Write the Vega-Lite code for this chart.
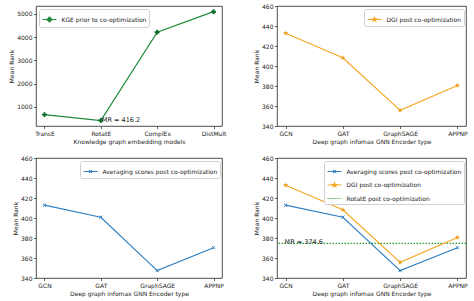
{
  "$schema": "https://vega.github.io/schema/vega-lite/v6.json",
  "background": "white",
  "padding": {"left": 8, "top": 2, "right": 2, "bottom": 2},
  "spacing": 9,
  "datasets": {
    "kge": [
      {"model": "TransE", "rank": 670, "series": "KGE prior to co-optimization"},
      {"model": "RotatE", "rank": 416.2, "series": "KGE prior to co-optimization"},
      {"model": "ComplEx", "rank": 4210, "series": "KGE prior to co-optimization"},
      {"model": "DistMult", "rank": 5090, "series": "KGE prior to co-optimization"}
    ],
    "dgi": [
      {"enc": "GCN", "rank": 432.8, "series": "DGI post co-optimization"},
      {"enc": "GAT", "rank": 408.2, "series": "DGI post co-optimization"},
      {"enc": "GraphSAGE", "rank": 355.6, "series": "DGI post co-optimization"},
      {"enc": "APPNP", "rank": 380.5, "series": "DGI post co-optimization"}
    ],
    "avg": [
      {"enc": "GCN", "rank": 412.8, "series": "Averaging scores post co-optimization"},
      {"enc": "GAT", "rank": 400.8, "series": "Averaging scores post co-optimization"},
      {"enc": "GraphSAGE", "rank": 347.4, "series": "Averaging scores post co-optimization"},
      {"enc": "APPNP", "rank": 370.3, "series": "Averaging scores post co-optimization"}
    ],
    "both": [
      {"enc": "GCN", "rank": 412.8, "series": "Averaging scores post co-optimization"},
      {"enc": "GAT", "rank": 400.8, "series": "Averaging scores post co-optimization"},
      {"enc": "GraphSAGE", "rank": 347.4, "series": "Averaging scores post co-optimization"},
      {"enc": "APPNP", "rank": 370.3, "series": "Averaging scores post co-optimization"},
      {"enc": "GCN", "rank": 432.8, "series": "DGI post co-optimization"},
      {"enc": "GAT", "rank": 408.2, "series": "DGI post co-optimization"},
      {"enc": "GraphSAGE", "rank": 355.6, "series": "DGI post co-optimization"},
      {"enc": "APPNP", "rank": 380.5, "series": "DGI post co-optimization"}
    ],
    "rot": [
      {"rank": 374.6, "series": "RotatE post co-optimization", "enc": "GCN", "label": "MR = 374.6"}
    ],
    "kgelabel": [
      {"model": "RotatE", "rank": 416.2, "label": "MR = 416.2"}
    ]
  },
  "config": {
    "font": "DejaVu Sans",
    "view": {"stroke": "#222", "strokeWidth": 0.8},
    "axis": {
      "grid": false,
      "domain": false,
      "labelFontSize": 6,
      "labelColor": "#222",
      "titleFontSize": 6,
      "titleFontWeight": "normal",
      "titleColor": "#222",
      "tickColor": "#222",
      "tickSize": 2.5,
      "tickWidth": 0.7,
      "labelPadding": 1.5,
      "titlePadding": 2,
      "labelOverlap": false,
      "labelFlush": false
    },
    "legend": {
      "labelFontSize": 6,
      "labelColor": "#222",
      "strokeColor": "#d0d0d0",
      "fillColor": "white",
      "cornerRadius": 2,
      "padding": 2.5,
      "offset": 2.5,
      "rowPadding": 1.5,
      "labelOffset": 4,
      "symbolSize": 196,
      "title": null
    }
  },
  "resolve": {"scale": {"color": "independent"}, "legend": {"color": "independent"}},
  "vconcat": [
    {
      "bounds": "flush",
      "spacing": 55,
      "resolve": {"scale": {"color": "independent"}, "legend": {"color": "independent"}},
      "hconcat": [
        {
          "width": 186,
          "height": 120,
          "layer": [
            {
              "data": {"name": "kge"},
              "mark": {"type": "line", "strokeWidth": 1.2},
              "encoding": {
                "x": {"field": "model", "type": "nominal", "sort": null,
                      "scale": {"type": "point", "padding": 0.15},
                      "axis": {"title": "Knowledge graph embedding models", "labelAngle": 0}},
                "y": {"field": "rank", "type": "quantitative",
                      "scale": {"domain": [182, 5334], "nice": false, "zero": false},
                      "axis": {"title": "Mean Rank", "format": "d", "tickCount": 5, "labelOverlap": false, "labelSeparation": 0}},
                "color": {"field": "series", "type": "nominal",
                          "scale": {"domain": ["KGE prior to co-optimization"], "range": ["#1d8a3a"]},
                          "legend": {
                            "orient": "top-left",
                            "encode": {"symbols": {"update": {
                              "shape": {"value": "M-1,0H1M-0.1,-0.3H0.1V-0.1H0.3V0.1H0.1V0.3H-0.1V0.1H-0.3V-0.1H-0.1Z"},
                              "stroke": {"value": "#1d8a3a"},
                              "fill": {"value": "#0f6b2c"},
                              "strokeWidth": {"value": 1.1},
                              "opacity": {"value": 1}
                            }}}
                          }}
              }
            },
            {
              "data": {"name": "kge"},
              "mark": {"type": "point", "shape": "cross", "filled": true, "size": 24, "color": "#0f6b2c", "opacity": 1},
              "encoding": {
                "x": {"field": "model", "type": "nominal", "sort": null},
                "y": {"field": "rank", "type": "quantitative"}
              }
            },
            {
              "data": {"name": "kgelabel"},
              "mark": {"type": "text", "align": "left", "baseline": "alphabetic", "fontSize": 6.5, "dx": 1, "dy": 1, "color": "#222"},
              "encoding": {
                "x": {"field": "model", "type": "nominal", "sort": null},
                "y": {"field": "rank", "type": "quantitative"},
                "text": {"field": "label"}
              }
            }
          ]
        },
        {
          "width": 189,
          "height": 120,
          "layer": [
            {
              "data": {"name": "dgi"},
              "mark": {"type": "line", "strokeWidth": 1.2},
              "encoding": {
                "x": {"field": "enc", "type": "nominal", "sort": null,
                      "scale": {"type": "point", "padding": 0.15},
                      "axis": {"title": "Deep graph infomax GNN Encoder type", "labelAngle": 0}},
                "y": {"field": "rank", "type": "quantitative",
                      "scale": {"domain": [340, 460], "nice": false, "zero": false},
                      "axis": {"title": "Mean Rank", "format": "d", "tickCount": 6, "labelOverlap": false, "labelSeparation": 0}},
                "color": {"field": "series", "type": "nominal",
                          "scale": {"domain": ["DGI post co-optimization"], "range": ["#f5a623"]},
                          "legend": {
                            "orient": "top-right",
                            "encode": {"symbols": {"update": {
                              "shape": {"value": "M-1,0H1M0,-0.3L0.07,-0.1L0.29,-0.09L0.11,0.04L0.18,0.24L0,0.12L-0.18,0.24L-0.11,0.04L-0.29,-0.09L-0.07,-0.1Z"},
                              "stroke": {"value": "#f5a623"},
                              "fill": {"value": "#f0a020"},
                              "strokeWidth": {"value": 1.1},
                              "opacity": {"value": 1}
                            }}}
                          }}
              }
            },
            {
              "data": {"name": "dgi"},
              "mark": {"type": "point", "shape": "M0,-1L0.24,-0.33L0.95,-0.31L0.38,0.12L0.59,0.81L0,0.4L-0.59,0.81L-0.38,0.12L-0.95,-0.31L-0.24,-0.33Z", "filled": true, "size": 30, "color": "#e89a1a", "opacity": 1},
              "encoding": {
                "x": {"field": "enc", "type": "nominal", "sort": null},
                "y": {"field": "rank", "type": "quantitative"}
              }
            }
          ]
        }
      ]
    },
    {
      "bounds": "flush",
      "spacing": 55,
      "resolve": {"scale": {"color": "independent"}, "legend": {"color": "independent"}},
      "hconcat": [
        {
          "width": 186,
          "height": 120,
          "layer": [
            {
              "data": {"name": "avg"},
              "mark": {"type": "line", "strokeWidth": 1.2},
              "encoding": {
                "x": {"field": "enc", "type": "nominal", "sort": null,
                      "scale": {"type": "point", "padding": 0.15},
                      "axis": {"title": "Deep graph infomax GNN Encoder type", "labelAngle": 0}},
                "y": {"field": "rank", "type": "quantitative",
                      "scale": {"domain": [340, 460], "nice": false, "zero": false},
                      "axis": {"title": "Mean Rank", "format": "d", "tickCount": 6, "labelOverlap": false, "labelSeparation": 0}},
                "color": {"field": "series", "type": "nominal",
                          "scale": {"domain": ["Averaging scores post co-optimization"], "range": ["#2f7fc1"]},
                          "legend": {
                            "orient": "top-right",
                            "encode": {"symbols": {"update": {
                              "shape": {"value": "M-1,0H1M-0.2,-0.2L0.2,0.2M-0.2,0.2L0.2,-0.2"},
                              "stroke": {"value": "#2f7fc1"},
                              "fill": {"value": "transparent"},
                              "strokeWidth": {"value": 1.1},
                              "opacity": {"value": 1}
                            }}}
                          }}
              }
            },
            {
              "data": {"name": "avg"},
              "mark": {"type": "point", "shape": "M-1,-1L1,1M-1,1L1,-1", "filled": false, "size": 10, "strokeWidth": 1, "color": "#2f7fc1", "opacity": 1},
              "encoding": {
                "x": {"field": "enc", "type": "nominal", "sort": null},
                "y": {"field": "rank", "type": "quantitative"}
              }
            }
          ]
        },
        {
          "width": 189,
          "height": 120,
          "layer": [
            {
              "data": {"name": "rot"},
              "mark": {"type": "rule", "strokeDash": [1.5, 1.5], "strokeWidth": 1.1},
              "encoding": {
                "y": {"field": "rank", "type": "quantitative",
                      "scale": {"domain": [340, 460], "nice": false, "zero": false},
                      "axis": {"title": "Mean Rank", "format": "d", "tickCount": 6, "labelOverlap": false, "labelSeparation": 0}},
                "color": {"field": "series", "type": "nominal",
                          "scale": {"domain": ["Averaging scores post co-optimization", "DGI post co-optimization", "RotatE post co-optimization"],
                                    "range": ["#2f7fc1", "#f5a623", "#2ca02c"]},
                          "legend": {
                            "orient": "top-right",
                            "encode": {"symbols": {"update": {
                              "shape": {"signal": "datum.value == 'Averaging scores post co-optimization' ? 'M-1,0H1M-0.2,-0.2L0.2,0.2M-0.2,0.2L0.2,-0.2' : datum.value == 'DGI post co-optimization' ? 'M-1,0H1M0,-0.3L0.07,-0.1L0.29,-0.09L0.11,0.04L0.18,0.24L0,0.12L-0.18,0.24L-0.11,0.04L-0.29,-0.09L-0.07,-0.1Z' : 'M-1,0H-0.86M-0.72,0H-0.58M-0.44,0H-0.3M-0.16,0H-0.02M0.12,0H0.26M0.4,0H0.54M0.68,0H0.82M0.96,0H1'"},
                              "stroke": {"signal": "datum.value == 'Averaging scores post co-optimization' ? '#2f7fc1' : datum.value == 'DGI post co-optimization' ? '#f5a623' : '#2ca02c'"},
                              "fill": {"signal": "datum.value == 'DGI post co-optimization' ? '#f0a020' : 'transparent'"},
                              "strokeWidth": {"value": 1.1},
                              "opacity": {"value": 1}
                            }}}
                          }}
              }
            },
            {
              "data": {"name": "both"},
              "mark": {"type": "line", "strokeWidth": 1.2},
              "encoding": {
                "x": {"field": "enc", "type": "nominal", "sort": null,
                      "scale": {"type": "point", "padding": 0.15, "domain": ["GCN", "GAT", "GraphSAGE", "APPNP"]},
                      "axis": {"title": "Deep graph infomax GNN Encoder type", "labelAngle": 0}},
                "y": {"field": "rank", "type": "quantitative"},
                "color": {"field": "series", "type": "nominal"}
              }
            },
            {
              "data": {"name": "both"},
              "transform": [{"filter": "datum.series == 'DGI post co-optimization'"}],
              "mark": {"type": "point", "shape": "M0,-1L0.24,-0.33L0.95,-0.31L0.38,0.12L0.59,0.81L0,0.4L-0.59,0.81L-0.38,0.12L-0.95,-0.31L-0.24,-0.33Z", "filled": true, "size": 30, "color": "#e89a1a", "opacity": 1},
              "encoding": {
                "x": {"field": "enc", "type": "nominal"},
                "y": {"field": "rank", "type": "quantitative"}
              }
            },
            {
              "data": {"name": "both"},
              "transform": [{"filter": "datum.series == 'Averaging scores post co-optimization'"}],
              "mark": {"type": "point", "shape": "M-1,-1L1,1M-1,1L1,-1", "filled": false, "size": 10, "strokeWidth": 1, "color": "#2f7fc1", "opacity": 1},
              "encoding": {
                "x": {"field": "enc", "type": "nominal"},
                "y": {"field": "rank", "type": "quantitative"}
              }
            },
            {
              "data": {"name": "rot"},
              "mark": {"type": "text", "align": "left", "baseline": "alphabetic", "fontSize": 6.5, "dx": -1, "dy": 1, "color": "#222"},
              "encoding": {
                "x": {"field": "enc", "type": "nominal"},
                "y": {"field": "rank", "type": "quantitative"},
                "text": {"field": "label"}
              }
            }
          ]
        }
      ]
    }
  ]
}
